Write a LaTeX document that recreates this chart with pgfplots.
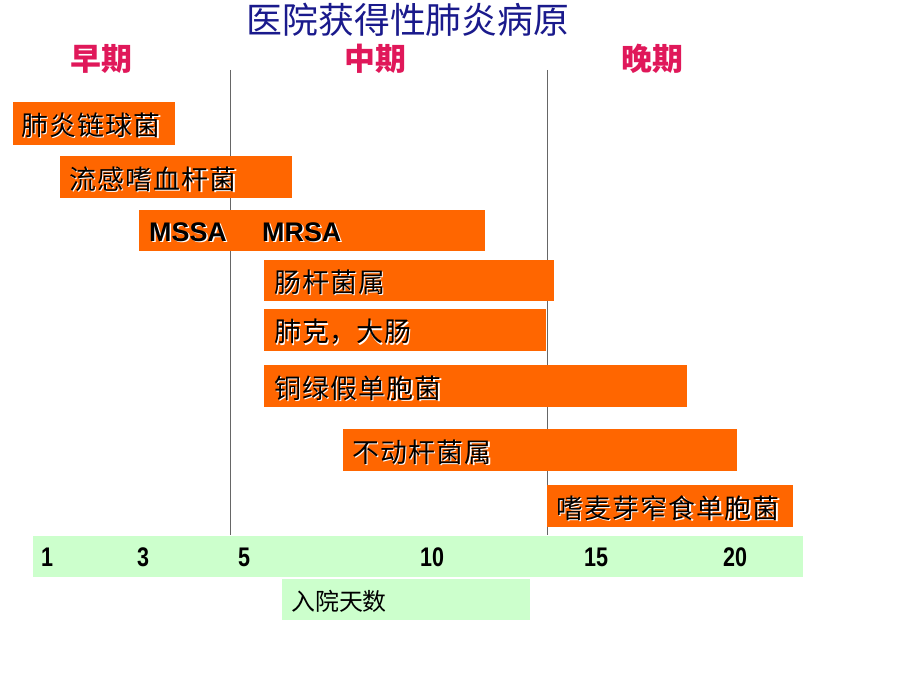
\documentclass[border=0pt]{standalone}
\usepackage{pgfplots}
\pgfplotsset{compat=1.18}
\usepackage{fontspec}
\setmainfont{Liberation Sans}
\newfontfamily\cjk{Noto Sans CJK SC}
\newfontfamily\num[FakeStretch=0.8]{Liberation Sans}
\definecolor{barorange}{RGB}{255,102,0}
\definecolor{bandgreen}{RGB}{204,255,204}
\definecolor{titleblue}{RGB}{26,26,140}
\definecolor{phasered}{RGB}{224,24,90}
\newcommand{\cjkbar}{\cjk\fontsize{27}{32}\selectfont}
\newcommand{\latbar}{\bfseries\fontsize{27}{32}\selectfont}
\newcommand{\gapx}{\hspace{1.2bp}}
\newcommand{\shtext}[4]{% font, x, y, text
  \node[anchor=west,inner sep=0pt,text=white,font=#1] at (axis cs:#2+1.5,#3+1.5) {#4};
  \node[anchor=west,inner sep=0pt,text=black,font=#1] at (axis cs:#2,#3) {#4};}
\begin{document}
\begin{tikzpicture}
\begin{axis}[x=1bp, y=1bp, y dir=reverse, xmin=0, xmax=900, ymin=0, ymax=697,
  hide axis, clip=false, scale only axis]
\path (axis cs:0,0) rectangle (axis cs:900,697);
% phase separators
\addplot[black!60, line width=1bp] coordinates {(230,69) (230,534)};
\addplot[black!60, line width=1bp] coordinates {(547,69) (547,534)};
% bars (x from, x to, y top, y bottom in picture units)
\addplot[fill=barorange, draw=none] coordinates {(13,101) (175,101) (175,144) (13,144)};
\addplot[fill=barorange, draw=none] coordinates {(60,155) (292,155) (292,197) (60,197)};
\addplot[fill=barorange, draw=none] coordinates {(139,209) (485,209) (485,250) (139,250)};
\addplot[fill=barorange, draw=none] coordinates {(264,259) (554,259) (554,300) (264,300)};
\addplot[fill=barorange, draw=none] coordinates {(264,308) (546,308) (546,350) (264,350)};
\addplot[fill=barorange, draw=none] coordinates {(264,364) (687,364) (687,406) (264,406)};
\addplot[fill=barorange, draw=none] coordinates {(343,428) (737,428) (737,470) (343,470)};
\addplot[fill=barorange, draw=none] coordinates {(547,484) (793,484) (793,526) (547,526)};
% green band and label box
\addplot[fill=bandgreen, draw=none] coordinates {(33,535) (803,535) (803,576) (33,576)};
\addplot[fill=bandgreen, draw=none] coordinates {(282,578) (530,578) (530,619) (282,619)};
% title and phases
\node[text=titleblue, font=\cjk\fontsize{36}{42}\selectfont] at (axis cs:408,19) {医院获得性肺炎病原};
\node[text=phasered, font=\cjk\bfseries\fontsize{31}{36}\selectfont] at (axis cs:101,58) {早期};
\node[text=phasered, font=\cjk\bfseries\fontsize{31}{36}\selectfont] at (axis cs:375,58) {中期};
\node[text=phasered, font=\cjk\bfseries\fontsize{31}{36}\selectfont] at (axis cs:652,58) {晚期};
% bar labels
\shtext{\cjkbar}{21}{124}{肺\gapx 炎\gapx 链\gapx 球\gapx 菌}
\shtext{\cjkbar}{69}{178}{流\gapx 感\gapx 嗜\gapx 血\gapx 杆\gapx 菌}
\shtext{\cjkbar}{274}{281}{肠\gapx 杆\gapx 菌\gapx 属}
\shtext{\cjkbar}{274}{331}{肺\gapx 克，大\gapx 肠}
\shtext{\cjkbar}{274}{387}{铜\gapx 绿\gapx 假\gapx 单\gapx 胞\gapx 菌}
\shtext{\cjkbar}{352}{451}{不\gapx 动\gapx 杆\gapx 菌\gapx 属}
\shtext{\cjkbar}{556}{507}{嗜\gapx 麦\gapx 芽\gapx 窄\gapx 食\gapx 单\gapx 胞\gapx 菌}
\shtext{\latbar}{149}{231}{MSSA}
\shtext{\latbar}{262}{231}{MRSA}
% day numbers
\node[inner sep=0pt, font=\num\bfseries\fontsize{27}{30}\selectfont] at (axis cs:47,556) {1};
\node[inner sep=0pt, font=\num\bfseries\fontsize{27}{30}\selectfont] at (axis cs:143,556) {3};
\node[inner sep=0pt, font=\num\bfseries\fontsize{27}{30}\selectfont] at (axis cs:244,556) {5};
\node[inner sep=0pt, font=\num\bfseries\fontsize{27}{30}\selectfont] at (axis cs:432,556) {10};
\node[inner sep=0pt, font=\num\bfseries\fontsize{27}{30}\selectfont] at (axis cs:596,556) {15};
\node[inner sep=0pt, font=\num\bfseries\fontsize{27}{30}\selectfont] at (axis cs:735,556) {20};
\node[anchor=west, inner sep=0pt, font=\cjk\fontsize{24}{28}\selectfont] at (axis cs:291,600) {入院天数};
\end{axis}
\end{tikzpicture}
\end{document}
